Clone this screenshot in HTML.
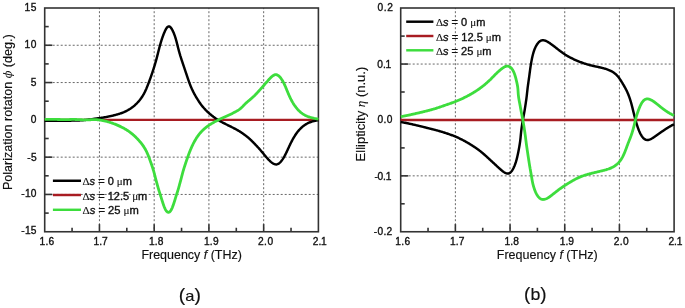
<!DOCTYPE html>
<html><head><meta charset="utf-8"><title>Figure</title><style>
html,body{margin:0;padding:0;background:#fff;width:685px;height:308px;overflow:hidden}
svg{display:block}
text{font-family:"Liberation Sans",Arial,sans-serif;fill:#111;stroke:#111;stroke-width:0.35px}
.pl{fill:#111;stroke-width:0.15px}
.al{stroke-width:0.15px}
.sym{font-family:"Liberation Serif",serif;stroke-width:0.1px}
.sym2{font-family:"DejaVu Serif",serif;stroke-width:0;font-size:11px}
.grid{stroke:#686868;stroke-width:1;stroke-dasharray:2 2;fill:none}
.ax{fill:none;stroke:#333;stroke-width:1.6}
.tk{stroke:#333;stroke-width:1.6}
.c{fill:none;stroke-width:2.45;stroke-linejoin:round;stroke-linecap:butt}
.blk{stroke:#000}
.red{stroke:#a81c22}
.grn{stroke:#3ddd3d}
.gc{stroke-width:2.8}
</style></head><body>
<svg width="685" height="308" viewBox="0 0 685 308">
<line x1="99.44" y1="8.0" x2="99.44" y2="231.75" class="grid" stroke-dashoffset="0.8"/>
<line x1="154.18" y1="8.0" x2="154.18" y2="231.75" class="grid" stroke-dashoffset="0.8"/>
<line x1="208.92" y1="8.0" x2="208.92" y2="231.75" class="grid" stroke-dashoffset="0.8"/>
<line x1="263.66" y1="8.0" x2="263.66" y2="231.75" class="grid" stroke-dashoffset="0.8"/>
<line x1="44.7" y1="45.25" x2="318.4" y2="45.25" class="grid"/>
<line x1="44.7" y1="82.55" x2="318.4" y2="82.55" class="grid"/>
<line x1="44.7" y1="119.85" x2="318.4" y2="119.85" class="grid"/>
<line x1="44.7" y1="157.15" x2="318.4" y2="157.15" class="grid"/>
<line x1="44.7" y1="194.45" x2="318.4" y2="194.45" class="grid"/>
<rect x="44.7" y="8.0" width="273.70" height="223.75" class="ax"/>
<line x1="99.44" y1="231.75" x2="99.44" y2="224.15" class="tk"/>
<line x1="154.18" y1="231.75" x2="154.18" y2="224.15" class="tk"/>
<line x1="208.92" y1="231.75" x2="208.92" y2="224.15" class="tk"/>
<line x1="263.66" y1="231.75" x2="263.66" y2="224.15" class="tk"/>
<line x1="72.07" y1="231.75" x2="72.07" y2="227.75" class="tk"/>
<line x1="126.81" y1="231.75" x2="126.81" y2="227.75" class="tk"/>
<line x1="181.55" y1="231.75" x2="181.55" y2="227.75" class="tk"/>
<line x1="236.29" y1="231.75" x2="236.29" y2="227.75" class="tk"/>
<line x1="291.03" y1="231.75" x2="291.03" y2="227.75" class="tk"/>
<line x1="44.7" y1="45.25" x2="52.300000000000004" y2="45.25" class="tk"/>
<line x1="44.7" y1="82.55" x2="52.300000000000004" y2="82.55" class="tk"/>
<line x1="44.7" y1="119.85" x2="52.300000000000004" y2="119.85" class="tk"/>
<line x1="44.7" y1="157.15" x2="52.300000000000004" y2="157.15" class="tk"/>
<line x1="44.7" y1="194.45" x2="52.300000000000004" y2="194.45" class="tk"/>
<line x1="44.7" y1="26.60" x2="48.7" y2="26.60" class="tk"/>
<line x1="44.7" y1="63.90" x2="48.7" y2="63.90" class="tk"/>
<line x1="44.7" y1="101.20" x2="48.7" y2="101.20" class="tk"/>
<line x1="44.7" y1="138.50" x2="48.7" y2="138.50" class="tk"/>
<line x1="44.7" y1="175.80" x2="48.7" y2="175.80" class="tk"/>
<line x1="44.7" y1="213.10" x2="48.7" y2="213.10" class="tk"/>
<path d="M44.7,119.85 L318.4,119.85" class="c red"/>
<path d="M44.70,120.71 L45.31,120.71 L45.92,120.71 L46.54,120.71 L47.15,120.71 L47.76,120.71 L48.37,120.71 L48.98,120.71 L49.59,120.72 L50.21,120.72 L50.82,120.72 L51.43,120.72 L52.04,120.72 L52.65,120.72 L53.27,120.72 L53.88,120.72 L54.49,120.72 L55.10,120.72 L55.71,120.72 L56.33,120.72 L56.94,120.72 L57.55,120.71 L58.16,120.71 L58.77,120.71 L59.38,120.71 L60.00,120.71 L60.61,120.71 L61.22,120.71 L61.83,120.71 L62.44,120.71 L63.06,120.71 L63.67,120.71 L64.28,120.71 L64.89,120.71 L65.50,120.70 L66.12,120.70 L66.73,120.70 L67.34,120.69 L67.95,120.69 L68.56,120.69 L69.17,120.68 L69.79,120.68 L70.40,120.67 L71.01,120.66 L71.62,120.65 L72.23,120.64 L72.85,120.63 L73.46,120.62 L74.07,120.61 L74.68,120.59 L75.29,120.58 L75.90,120.56 L76.52,120.54 L77.13,120.52 L77.74,120.50 L78.35,120.47 L78.96,120.44 L79.57,120.41 L80.18,120.38 L80.79,120.34 L81.40,120.30 L82.01,120.26 L82.62,120.21 L83.23,120.17 L83.84,120.11 L84.45,120.06 L85.06,120.00 L85.67,119.94 L86.28,119.88 L86.89,119.81 L87.50,119.74 L88.10,119.66 L88.71,119.59 L89.32,119.51 L89.92,119.43 L90.53,119.35 L91.14,119.27 L91.74,119.18 L92.35,119.10 L92.95,119.01 L93.56,118.92 L94.17,118.83 L94.77,118.75 L95.38,118.66 L95.98,118.57 L96.59,118.49 L97.19,118.40 L97.80,118.31 L98.40,118.23 L99.01,118.14 L99.62,118.06 L100.22,117.97 L100.83,117.88 L101.43,117.79 L102.04,117.70 L102.64,117.61 L103.25,117.52 L103.85,117.42 L104.46,117.32 L105.06,117.22 L105.66,117.11 L106.26,117.00 L106.86,116.89 L107.47,116.77 L108.07,116.65 L108.66,116.53 L109.26,116.40 L109.86,116.27 L110.46,116.14 L111.06,116.01 L111.65,115.87 L112.25,115.73 L112.84,115.59 L113.44,115.44 L114.03,115.30 L114.62,115.15 L115.22,114.99 L115.81,114.84 L116.40,114.68 L116.99,114.51 L117.58,114.34 L118.16,114.17 L118.75,113.99 L119.33,113.81 L119.91,113.62 L120.49,113.42 L121.07,113.22 L121.65,113.01 L122.22,112.79 L122.79,112.57 L123.36,112.34 L123.92,112.11 L124.48,111.86 L125.04,111.61 L125.59,111.35 L126.14,111.08 L126.69,110.81 L127.23,110.53 L127.77,110.24 L128.30,109.94 L128.83,109.63 L129.36,109.31 L129.88,108.99 L130.39,108.66 L130.90,108.32 L131.40,107.97 L131.90,107.61 L132.39,107.24 L132.87,106.87 L133.35,106.49 L133.82,106.10 L134.29,105.70 L134.75,105.30 L135.20,104.89 L135.65,104.47 L136.09,104.05 L136.53,103.62 L136.95,103.18 L137.38,102.74 L137.79,102.29 L138.20,101.83 L138.61,101.38 L139.00,100.91 L139.40,100.44 L139.78,99.96 L140.16,99.48 L140.53,99.00 L140.89,98.50 L141.25,98.01 L141.60,97.51 L141.95,97.00 L142.29,96.49 L142.62,95.98 L142.94,95.46 L143.25,94.93 L143.56,94.40 L143.86,93.87 L144.15,93.33 L144.44,92.79 L144.72,92.25 L144.99,91.70 L145.25,91.14 L145.51,90.59 L145.76,90.03 L146.00,89.47 L146.25,88.91 L146.48,88.35 L146.72,87.78 L146.95,87.21 L147.18,86.65 L147.40,86.08 L147.63,85.51 L147.85,84.94 L148.08,84.37 L148.30,83.80 L148.52,83.23 L148.74,82.66 L148.95,82.08 L149.17,81.51 L149.38,80.94 L149.60,80.37 L149.81,79.79 L150.02,79.22 L150.23,78.64 L150.44,78.07 L150.64,77.49 L150.85,76.91 L151.05,76.34 L151.25,75.76 L151.45,75.18 L151.65,74.60 L151.85,74.02 L152.05,73.44 L152.24,72.86 L152.44,72.28 L152.63,71.70 L152.82,71.12 L153.01,70.54 L153.20,69.96 L153.39,69.38 L153.58,68.80 L153.76,68.21 L153.95,67.63 L154.13,67.04 L154.31,66.46 L154.49,65.88 L154.67,65.29 L154.85,64.70 L155.02,64.12 L155.19,63.53 L155.37,62.94 L155.54,62.36 L155.70,61.77 L155.87,61.18 L156.04,60.59 L156.20,60.00 L156.36,59.41 L156.52,58.82 L156.68,58.23 L156.83,57.64 L156.99,57.04 L157.14,56.45 L157.29,55.86 L157.44,55.27 L157.59,54.67 L157.74,54.08 L157.89,53.49 L158.04,52.89 L158.19,52.30 L158.34,51.71 L158.49,51.11 L158.64,50.52 L158.79,49.93 L158.94,49.33 L159.09,48.74 L159.25,48.15 L159.40,47.56 L159.56,46.97 L159.72,46.38 L159.88,45.79 L160.04,45.20 L160.21,44.61 L160.38,44.02 L160.55,43.43 L160.72,42.84 L160.89,42.26 L161.07,41.67 L161.25,41.09 L161.43,40.50 L161.61,39.92 L161.80,39.34 L161.99,38.75 L162.19,38.17 L162.39,37.60 L162.59,37.02 L162.80,36.44 L163.01,35.87 L163.22,35.29 L163.44,34.72 L163.66,34.15 L163.89,33.58 L164.12,33.02 L164.35,32.45 L164.60,31.89 L164.85,31.33 L165.10,30.78 L165.37,30.23 L165.65,29.68 L165.94,29.14 L166.25,28.62 L166.58,28.10 L166.95,27.61 L167.35,27.15 L167.81,26.75 L168.35,26.46 L168.95,26.37 L169.54,26.52 L170.06,26.85 L170.51,27.26 L170.91,27.72 L171.28,28.21 L171.61,28.72 L171.93,29.24 L172.23,29.78 L172.51,30.32 L172.79,30.87 L173.05,31.42 L173.30,31.98 L173.54,32.54 L173.78,33.10 L174.01,33.67 L174.23,34.24 L174.44,34.81 L174.65,35.39 L174.85,35.97 L175.05,36.55 L175.24,37.13 L175.42,37.71 L175.60,38.30 L175.78,38.88 L175.95,39.47 L176.12,40.06 L176.28,40.65 L176.44,41.24 L176.60,41.83 L176.75,42.42 L176.90,43.02 L177.05,43.61 L177.20,44.20 L177.35,44.80 L177.50,45.39 L177.65,45.98 L177.80,46.58 L177.94,47.17 L178.09,47.76 L178.25,48.36 L178.40,48.95 L178.55,49.54 L178.71,50.13 L178.87,50.72 L179.03,51.31 L179.20,51.90 L179.36,52.49 L179.53,53.08 L179.70,53.67 L179.87,54.25 L180.05,54.84 L180.23,55.43 L180.40,56.01 L180.59,56.60 L180.77,57.18 L180.95,57.76 L181.14,58.35 L181.32,58.93 L181.51,59.51 L181.70,60.09 L181.89,60.67 L182.08,61.25 L182.28,61.84 L182.47,62.42 L182.66,63.00 L182.86,63.58 L183.05,64.16 L183.25,64.74 L183.44,65.32 L183.64,65.90 L183.83,66.48 L184.03,67.06 L184.22,67.64 L184.42,68.22 L184.61,68.80 L184.81,69.38 L185.00,69.96 L185.20,70.54 L185.39,71.12 L185.59,71.70 L185.78,72.28 L185.98,72.86 L186.17,73.44 L186.37,74.02 L186.56,74.60 L186.75,75.18 L186.95,75.76 L187.14,76.34 L187.34,76.92 L187.53,77.50 L187.73,78.08 L187.92,78.66 L188.12,79.24 L188.32,79.82 L188.52,80.39 L188.72,80.97 L188.92,81.55 L189.13,82.12 L189.34,82.70 L189.55,83.27 L189.76,83.85 L189.98,84.42 L190.20,84.99 L190.43,85.56 L190.66,86.12 L190.89,86.69 L191.13,87.25 L191.38,87.81 L191.62,88.37 L191.87,88.93 L192.13,89.49 L192.39,90.04 L192.65,90.59 L192.92,91.14 L193.20,91.69 L193.47,92.24 L193.75,92.78 L194.04,93.32 L194.33,93.86 L194.62,94.40 L194.92,94.93 L195.22,95.47 L195.52,96.00 L195.83,96.53 L196.14,97.05 L196.46,97.58 L196.77,98.10 L197.09,98.62 L197.42,99.14 L197.74,99.66 L198.07,100.17 L198.40,100.69 L198.74,101.20 L199.08,101.71 L199.42,102.22 L199.77,102.72 L200.12,103.22 L200.47,103.72 L200.83,104.22 L201.20,104.71 L201.56,105.20 L201.94,105.68 L202.32,106.16 L202.70,106.64 L203.09,107.11 L203.49,107.57 L203.89,108.04 L204.30,108.49 L204.71,108.95 L205.13,109.39 L205.55,109.84 L205.98,110.27 L206.41,110.71 L206.84,111.14 L207.28,111.56 L207.73,111.98 L208.17,112.40 L208.63,112.81 L209.08,113.22 L209.54,113.63 L210.00,114.03 L210.47,114.42 L210.94,114.81 L211.41,115.20 L211.89,115.58 L212.37,115.96 L212.86,116.34 L213.34,116.71 L213.83,117.07 L214.33,117.43 L214.83,117.79 L215.33,118.14 L215.83,118.49 L216.34,118.83 L216.85,119.16 L217.36,119.50 L217.88,119.82 L218.40,120.14 L218.93,120.46 L219.45,120.77 L219.98,121.08 L220.51,121.38 L221.05,121.68 L221.59,121.97 L222.12,122.26 L222.67,122.55 L223.21,122.83 L223.75,123.11 L224.30,123.39 L224.84,123.67 L225.39,123.94 L225.94,124.22 L226.48,124.49 L227.03,124.76 L227.58,125.03 L228.13,125.30 L228.68,125.58 L229.22,125.85 L229.77,126.12 L230.32,126.39 L230.87,126.67 L231.41,126.94 L231.96,127.22 L232.51,127.49 L233.05,127.77 L233.59,128.05 L234.14,128.33 L234.68,128.62 L235.22,128.90 L235.76,129.19 L236.30,129.49 L236.83,129.78 L237.37,130.08 L237.90,130.39 L238.42,130.70 L238.95,131.01 L239.47,131.33 L239.99,131.65 L240.51,131.98 L241.02,132.31 L241.54,132.64 L242.04,132.98 L242.55,133.33 L243.05,133.68 L243.55,134.03 L244.05,134.39 L244.54,134.75 L245.03,135.12 L245.52,135.49 L246.00,135.86 L246.48,136.24 L246.96,136.62 L247.43,137.01 L247.90,137.40 L248.37,137.80 L248.83,138.20 L249.29,138.60 L249.75,139.01 L250.20,139.42 L250.65,139.84 L251.09,140.26 L251.53,140.69 L251.97,141.12 L252.40,141.55 L252.84,141.98 L253.27,142.41 L253.69,142.85 L254.12,143.29 L254.55,143.73 L254.97,144.17 L255.40,144.61 L255.82,145.05 L256.24,145.49 L256.66,145.94 L257.08,146.39 L257.50,146.84 L257.91,147.29 L258.32,147.74 L258.73,148.19 L259.14,148.65 L259.55,149.11 L259.95,149.57 L260.35,150.03 L260.75,150.49 L261.14,150.96 L261.54,151.43 L261.93,151.90 L262.32,152.37 L262.71,152.84 L263.10,153.31 L263.49,153.78 L263.88,154.25 L264.27,154.72 L264.66,155.20 L265.05,155.67 L265.45,156.13 L265.84,156.60 L266.24,157.06 L266.64,157.53 L267.05,157.98 L267.46,158.44 L267.87,158.89 L268.29,159.34 L268.72,159.78 L269.15,160.21 L269.58,160.64 L270.03,161.06 L270.48,161.47 L270.94,161.87 L271.41,162.26 L271.90,162.64 L272.39,163.00 L272.90,163.33 L273.43,163.64 L273.98,163.91 L274.55,164.14 L275.14,164.31 L275.74,164.41 L276.35,164.42 L276.96,164.34 L277.54,164.17 L278.11,163.93 L278.64,163.63 L279.14,163.28 L279.61,162.89 L280.06,162.47 L280.49,162.04 L280.90,161.58 L281.29,161.11 L281.67,160.63 L282.03,160.14 L282.38,159.64 L282.73,159.13 L283.06,158.62 L283.39,158.10 L283.70,157.58 L284.01,157.05 L284.31,156.52 L284.61,155.98 L284.90,155.44 L285.19,154.90 L285.47,154.36 L285.74,153.81 L286.01,153.26 L286.28,152.71 L286.55,152.16 L286.81,151.61 L287.07,151.06 L287.33,150.50 L287.58,149.95 L287.84,149.39 L288.09,148.83 L288.35,148.28 L288.60,147.72 L288.86,147.16 L289.11,146.61 L289.37,146.05 L289.63,145.50 L289.89,144.95 L290.16,144.39 L290.42,143.84 L290.69,143.29 L290.96,142.75 L291.24,142.20 L291.52,141.65 L291.80,141.11 L292.08,140.57 L292.37,140.03 L292.66,139.49 L292.96,138.96 L293.26,138.43 L293.57,137.90 L293.88,137.37 L294.19,136.84 L294.51,136.32 L294.84,135.80 L295.17,135.29 L295.50,134.78 L295.84,134.27 L296.19,133.76 L296.55,133.27 L296.91,132.77 L297.27,132.28 L297.65,131.80 L298.03,131.32 L298.42,130.85 L298.81,130.38 L299.22,129.92 L299.63,129.47 L300.05,129.02 L300.48,128.59 L300.91,128.16 L301.36,127.74 L301.81,127.32 L302.27,126.92 L302.74,126.53 L303.22,126.15 L303.70,125.77 L304.20,125.41 L304.70,125.06 L305.21,124.72 L305.73,124.40 L306.25,124.08 L306.78,123.78 L307.32,123.49 L307.87,123.21 L308.42,122.95 L308.98,122.70 L309.54,122.46 L310.11,122.23 L310.68,122.02 L311.26,121.81 L311.84,121.62 L312.42,121.44 L313.01,121.27 L313.60,121.11 L314.20,120.96 L314.79,120.82 L315.39,120.69 L315.99,120.57 L316.59,120.46 L317.19,120.35 L317.80,120.25 L318.40,120.16" class="c blk"/>
<path d="M44.70,119.46 L45.31,119.46 L45.92,119.47 L46.53,119.47 L47.14,119.47 L47.76,119.47 L48.37,119.47 L48.98,119.47 L49.59,119.46 L50.20,119.46 L50.82,119.46 L51.43,119.45 L52.04,119.45 L52.65,119.45 L53.26,119.45 L53.87,119.45 L54.49,119.45 L55.10,119.45 L55.71,119.46 L56.32,119.46 L56.93,119.47 L57.55,119.48 L58.16,119.49 L58.77,119.50 L59.38,119.51 L59.99,119.52 L60.61,119.53 L61.22,119.54 L61.83,119.55 L62.44,119.55 L63.05,119.56 L63.66,119.57 L64.28,119.57 L64.89,119.58 L65.50,119.58 L66.11,119.58 L66.72,119.57 L67.34,119.57 L67.95,119.55 L68.56,119.54 L69.17,119.53 L69.78,119.51 L70.39,119.49 L71.01,119.48 L71.62,119.47 L72.23,119.46 L72.84,119.45 L73.45,119.46 L74.07,119.46 L74.68,119.47 L75.29,119.48 L75.90,119.50 L76.51,119.52 L77.12,119.54 L77.74,119.56 L78.35,119.59 L78.96,119.62 L79.57,119.65 L80.18,119.68 L80.79,119.71 L81.40,119.74 L82.01,119.77 L82.62,119.80 L83.24,119.83 L83.85,119.86 L84.46,119.89 L85.07,119.91 L85.68,119.93 L86.29,119.94 L86.91,119.94 L87.52,119.93 L88.13,119.91 L88.74,119.88 L89.35,119.84 L89.96,119.80 L90.57,119.75 L91.18,119.70 L91.79,119.66 L92.40,119.62 L93.01,119.60 L93.63,119.58 L94.24,119.58 L94.85,119.59 L95.46,119.61 L96.07,119.64 L96.68,119.69 L97.29,119.74 L97.90,119.80 L98.51,119.86 L99.12,119.94 L99.72,120.02 L100.33,120.11 L100.93,120.20 L101.54,120.31 L102.14,120.41 L102.74,120.53 L103.34,120.65 L103.94,120.77 L104.54,120.91 L105.13,121.04 L105.73,121.19 L106.32,121.33 L106.91,121.49 L107.50,121.65 L108.09,121.81 L108.68,121.98 L109.27,122.16 L109.85,122.34 L110.43,122.53 L111.02,122.72 L111.60,122.92 L112.17,123.12 L112.75,123.32 L113.32,123.53 L113.90,123.74 L114.47,123.96 L115.04,124.18 L115.61,124.41 L116.18,124.64 L116.74,124.87 L117.31,125.11 L117.87,125.35 L118.43,125.60 L118.99,125.85 L119.54,126.11 L120.09,126.37 L120.65,126.63 L121.20,126.90 L121.74,127.17 L122.29,127.45 L122.83,127.74 L123.37,128.02 L123.91,128.32 L124.44,128.62 L124.97,128.92 L125.50,129.23 L126.02,129.55 L126.55,129.87 L127.06,130.19 L127.58,130.53 L128.09,130.87 L128.59,131.21 L129.09,131.56 L129.59,131.92 L130.08,132.28 L130.57,132.65 L131.05,133.03 L131.53,133.41 L132.01,133.79 L132.48,134.18 L132.94,134.58 L133.41,134.98 L133.86,135.39 L134.32,135.80 L134.76,136.22 L135.21,136.64 L135.65,137.06 L136.08,137.49 L136.51,137.93 L136.94,138.37 L137.36,138.81 L137.78,139.25 L138.20,139.70 L138.61,140.16 L139.01,140.62 L139.42,141.08 L139.82,141.54 L140.21,142.01 L140.60,142.48 L140.99,142.95 L141.37,143.43 L141.75,143.91 L142.12,144.40 L142.48,144.89 L142.84,145.39 L143.19,145.89 L143.54,146.39 L143.88,146.90 L144.21,147.42 L144.53,147.94 L144.85,148.46 L145.15,148.99 L145.45,149.52 L145.74,150.06 L146.03,150.60 L146.31,151.15 L146.57,151.70 L146.84,152.25 L147.09,152.81 L147.34,153.37 L147.58,153.93 L147.82,154.49 L148.05,155.06 L148.28,155.63 L148.50,156.20 L148.72,156.77 L148.94,157.34 L149.16,157.91 L149.37,158.49 L149.58,159.06 L149.79,159.63 L150.00,160.21 L150.21,160.78 L150.42,161.36 L150.63,161.94 L150.83,162.51 L151.04,163.09 L151.24,163.67 L151.44,164.24 L151.64,164.82 L151.84,165.40 L152.03,165.98 L152.23,166.56 L152.42,167.14 L152.61,167.72 L152.80,168.31 L152.98,168.89 L153.16,169.47 L153.34,170.06 L153.52,170.64 L153.69,171.23 L153.86,171.82 L154.03,172.41 L154.19,173.00 L154.34,173.59 L154.49,174.18 L154.64,174.78 L154.79,175.37 L154.94,175.96 L155.09,176.56 L155.24,177.15 L155.39,177.74 L155.54,178.34 L155.70,178.93 L155.86,179.52 L156.02,180.11 L156.18,180.70 L156.34,181.29 L156.50,181.88 L156.66,182.47 L156.82,183.06 L156.98,183.65 L157.15,184.24 L157.31,184.83 L157.47,185.42 L157.64,186.01 L157.81,186.60 L157.97,187.19 L158.14,187.78 L158.31,188.36 L158.48,188.95 L158.66,189.54 L158.83,190.12 L159.01,190.71 L159.19,191.29 L159.38,191.88 L159.56,192.46 L159.75,193.04 L159.94,193.63 L160.12,194.21 L160.31,194.79 L160.49,195.38 L160.68,195.96 L160.86,196.54 L161.04,197.13 L161.22,197.71 L161.40,198.30 L161.58,198.88 L161.76,199.47 L161.94,200.05 L162.12,200.64 L162.30,201.22 L162.49,201.80 L162.67,202.39 L162.86,202.97 L163.05,203.55 L163.25,204.13 L163.45,204.71 L163.65,205.29 L163.86,205.86 L164.07,206.43 L164.30,207.00 L164.53,207.57 L164.77,208.13 L165.02,208.69 L165.29,209.24 L165.58,209.78 L165.89,210.30 L166.24,210.81 L166.62,211.29 L167.05,211.72 L167.55,212.08 L168.12,212.29 L168.72,212.30 L169.30,212.09 L169.80,211.74 L170.23,211.31 L170.61,210.83 L170.95,210.32 L171.26,209.79 L171.55,209.25 L171.81,208.70 L172.07,208.14 L172.31,207.58 L172.53,207.01 L172.75,206.44 L172.97,205.87 L173.17,205.29 L173.37,204.71 L173.57,204.13 L173.76,203.55 L173.95,202.97 L174.14,202.39 L174.32,201.80 L174.51,201.22 L174.69,200.64 L174.87,200.05 L175.05,199.47 L175.22,198.88 L175.40,198.30 L175.58,197.71 L175.76,197.13 L175.94,196.54 L176.12,195.96 L176.31,195.37 L176.49,194.79 L176.68,194.21 L176.87,193.63 L177.06,193.04 L177.25,192.46 L177.43,191.88 L177.62,191.30 L177.80,190.71 L177.98,190.13 L178.16,189.54 L178.33,188.95 L178.50,188.37 L178.67,187.78 L178.83,187.19 L179.00,186.60 L179.16,186.01 L179.32,185.42 L179.48,184.83 L179.64,184.24 L179.80,183.65 L179.96,183.06 L180.12,182.47 L180.28,181.87 L180.44,181.28 L180.59,180.69 L180.75,180.10 L180.91,179.51 L181.06,178.92 L181.22,178.32 L181.37,177.73 L181.53,177.14 L181.68,176.55 L181.84,175.96 L181.99,175.36 L182.15,174.77 L182.30,174.18 L182.46,173.59 L182.61,173.00 L182.77,172.41 L182.93,171.82 L183.10,171.23 L183.27,170.64 L183.44,170.05 L183.62,169.47 L183.80,168.88 L183.98,168.30 L184.16,167.71 L184.35,167.13 L184.54,166.55 L184.73,165.97 L184.92,165.38 L185.11,164.80 L185.30,164.22 L185.49,163.64 L185.68,163.06 L185.88,162.48 L186.07,161.90 L186.27,161.32 L186.46,160.74 L186.66,160.16 L186.86,159.58 L187.06,159.00 L187.26,158.42 L187.46,157.85 L187.66,157.27 L187.86,156.69 L188.07,156.12 L188.28,155.54 L188.48,154.96 L188.69,154.39 L188.91,153.82 L189.12,153.24 L189.34,152.67 L189.56,152.10 L189.78,151.53 L190.01,150.96 L190.24,150.39 L190.47,149.83 L190.71,149.26 L190.95,148.70 L191.19,148.14 L191.43,147.58 L191.68,147.02 L191.94,146.46 L192.20,145.91 L192.46,145.35 L192.72,144.80 L192.99,144.25 L193.27,143.71 L193.54,143.16 L193.83,142.62 L194.11,142.08 L194.41,141.54 L194.70,141.01 L195.00,140.47 L195.31,139.94 L195.62,139.42 L195.94,138.89 L196.26,138.37 L196.59,137.86 L196.92,137.34 L197.27,136.84 L197.61,136.33 L197.97,135.83 L198.33,135.34 L198.70,134.85 L199.07,134.37 L199.46,133.89 L199.85,133.42 L200.24,132.95 L200.65,132.49 L201.06,132.04 L201.47,131.59 L201.90,131.15 L202.33,130.72 L202.76,130.29 L203.20,129.86 L203.65,129.45 L204.11,129.04 L204.57,128.63 L205.03,128.23 L205.50,127.84 L205.98,127.46 L206.46,127.08 L206.95,126.71 L207.44,126.35 L207.93,125.99 L208.44,125.64 L208.94,125.29 L209.45,124.95 L209.96,124.62 L210.48,124.29 L211.00,123.97 L211.52,123.65 L212.05,123.34 L212.58,123.03 L213.11,122.72 L213.64,122.42 L214.17,122.12 L214.71,121.83 L215.25,121.54 L215.79,121.25 L216.33,120.97 L216.87,120.69 L217.42,120.41 L217.97,120.14 L218.52,119.86 L219.07,119.60 L219.62,119.33 L220.17,119.07 L220.72,118.81 L221.28,118.55 L221.83,118.30 L222.39,118.04 L222.95,117.79 L223.51,117.54 L224.07,117.29 L224.63,117.04 L225.18,116.79 L225.74,116.54 L226.30,116.29 L226.86,116.04 L227.41,115.78 L227.97,115.52 L228.52,115.26 L229.08,115.00 L229.63,114.74 L230.18,114.47 L230.73,114.21 L231.28,113.94 L231.83,113.67 L232.38,113.40 L232.92,113.12 L233.47,112.84 L234.01,112.56 L234.56,112.28 L235.10,111.99 L235.63,111.70 L236.17,111.40 L236.70,111.10 L237.23,110.79 L237.75,110.47 L238.27,110.14 L238.78,109.80 L239.28,109.45 L239.77,109.09 L240.25,108.71 L240.72,108.32 L241.18,107.92 L241.63,107.50 L242.07,107.07 L242.50,106.64 L242.92,106.20 L243.35,105.76 L243.77,105.31 L244.19,104.87 L244.62,104.44 L245.05,104.00 L245.50,103.58 L245.94,103.16 L246.40,102.75 L246.85,102.35 L247.32,101.95 L247.78,101.55 L248.25,101.15 L248.72,100.76 L249.19,100.37 L249.66,99.97 L250.12,99.58 L250.59,99.18 L251.05,98.78 L251.51,98.38 L251.97,97.97 L252.42,97.56 L252.87,97.15 L253.32,96.73 L253.77,96.31 L254.21,95.89 L254.64,95.46 L255.08,95.03 L255.51,94.59 L255.94,94.15 L256.36,93.71 L256.78,93.27 L257.20,92.82 L257.61,92.37 L258.03,91.92 L258.44,91.46 L258.85,91.01 L259.26,90.56 L259.66,90.10 L260.07,89.64 L260.48,89.19 L260.88,88.73 L261.29,88.27 L261.70,87.81 L262.10,87.36 L262.51,86.90 L262.92,86.44 L263.32,85.98 L263.73,85.52 L264.13,85.06 L264.53,84.60 L264.93,84.14 L265.33,83.68 L265.73,83.21 L266.13,82.75 L266.53,82.28 L266.93,81.82 L267.33,81.36 L267.72,80.89 L268.13,80.43 L268.53,79.97 L268.94,79.51 L269.35,79.06 L269.76,78.61 L270.18,78.17 L270.61,77.73 L271.05,77.30 L271.50,76.88 L271.96,76.48 L272.43,76.09 L272.92,75.73 L273.44,75.40 L273.98,75.11 L274.54,74.88 L275.13,74.72 L275.74,74.66 L276.35,74.71 L276.94,74.86 L277.51,75.09 L278.04,75.40 L278.54,75.75 L279.00,76.15 L279.45,76.57 L279.87,77.02 L280.27,77.48 L280.65,77.96 L281.02,78.44 L281.37,78.94 L281.72,79.45 L282.05,79.96 L282.37,80.48 L282.68,81.01 L282.98,81.54 L283.27,82.08 L283.56,82.62 L283.83,83.17 L284.10,83.72 L284.37,84.27 L284.62,84.83 L284.88,85.38 L285.12,85.94 L285.37,86.50 L285.61,87.07 L285.84,87.63 L286.08,88.20 L286.31,88.76 L286.54,89.33 L286.77,89.90 L287.00,90.46 L287.23,91.03 L287.46,91.60 L287.70,92.16 L287.93,92.73 L288.17,93.29 L288.41,93.86 L288.65,94.42 L288.89,94.98 L289.14,95.54 L289.39,96.10 L289.65,96.65 L289.91,97.21 L290.17,97.76 L290.44,98.31 L290.72,98.85 L290.99,99.40 L291.28,99.94 L291.57,100.48 L291.86,101.02 L292.16,101.55 L292.46,102.08 L292.77,102.61 L293.09,103.13 L293.41,103.65 L293.74,104.17 L294.07,104.68 L294.42,105.19 L294.76,105.69 L295.12,106.19 L295.48,106.69 L295.85,107.17 L296.22,107.66 L296.61,108.13 L297.00,108.60 L297.40,109.07 L297.81,109.52 L298.22,109.97 L298.65,110.41 L299.08,110.85 L299.52,111.27 L299.97,111.68 L300.43,112.08 L300.90,112.48 L301.38,112.86 L301.87,113.23 L302.37,113.59 L302.87,113.93 L303.38,114.26 L303.91,114.59 L304.43,114.89 L304.97,115.19 L305.51,115.47 L306.06,115.74 L306.62,115.99 L307.18,116.24 L307.75,116.47 L308.32,116.69 L308.89,116.90 L309.47,117.10 L310.05,117.29 L310.64,117.47 L311.22,117.64 L311.81,117.81 L312.41,117.96 L313.00,118.11 L313.60,118.24 L314.19,118.38 L314.79,118.50 L315.39,118.62 L316.00,118.73 L316.60,118.83 L317.20,118.93 L317.81,119.02 L318.41,119.11" class="c grn gc"/>
<line x1="52.9" y1="180.75" x2="81" y2="180.75" class="c blk"/>
<line x1="52.9" y1="195.0" x2="81" y2="195.0" class="c red"/>
<line x1="52.9" y1="209.8" x2="81" y2="209.8" class="c grn"/>
<line x1="455.38" y1="8.0" x2="455.38" y2="231.75" class="grid" stroke-dashoffset="0.8"/>
<line x1="510.06" y1="8.0" x2="510.06" y2="231.75" class="grid" stroke-dashoffset="0.8"/>
<line x1="564.74" y1="8.0" x2="564.74" y2="231.75" class="grid" stroke-dashoffset="0.8"/>
<line x1="619.42" y1="8.0" x2="619.42" y2="231.75" class="grid" stroke-dashoffset="0.8"/>
<line x1="400.7" y1="64.05" x2="674.1" y2="64.05" class="grid"/>
<line x1="400.7" y1="119.95" x2="674.1" y2="119.95" class="grid"/>
<line x1="400.7" y1="175.85" x2="674.1" y2="175.85" class="grid"/>
<rect x="400.7" y="8.0" width="273.40" height="223.75" class="ax"/>
<line x1="455.38" y1="231.75" x2="455.38" y2="224.15" class="tk"/>
<line x1="510.06" y1="231.75" x2="510.06" y2="224.15" class="tk"/>
<line x1="564.74" y1="231.75" x2="564.74" y2="224.15" class="tk"/>
<line x1="619.42" y1="231.75" x2="619.42" y2="224.15" class="tk"/>
<line x1="428.04" y1="231.75" x2="428.04" y2="227.75" class="tk"/>
<line x1="482.72" y1="231.75" x2="482.72" y2="227.75" class="tk"/>
<line x1="537.40" y1="231.75" x2="537.40" y2="227.75" class="tk"/>
<line x1="592.08" y1="231.75" x2="592.08" y2="227.75" class="tk"/>
<line x1="646.76" y1="231.75" x2="646.76" y2="227.75" class="tk"/>
<line x1="400.7" y1="64.05" x2="408.3" y2="64.05" class="tk"/>
<line x1="400.7" y1="119.95" x2="408.3" y2="119.95" class="tk"/>
<line x1="400.7" y1="175.85" x2="408.3" y2="175.85" class="tk"/>
<line x1="400.7" y1="36.10" x2="404.7" y2="36.10" class="tk"/>
<line x1="400.7" y1="92.00" x2="404.7" y2="92.00" class="tk"/>
<line x1="400.7" y1="147.90" x2="404.7" y2="147.90" class="tk"/>
<line x1="400.7" y1="203.80" x2="404.7" y2="203.80" class="tk"/>
<path d="M400.7,119.95 L674.1,119.95" class="c red"/>
<path d="M400.82,122.04 L401.46,122.14 L402.09,122.24 L402.73,122.35 L403.37,122.46 L404.00,122.58 L404.64,122.69 L405.27,122.81 L405.90,122.93 L406.54,123.06 L407.17,123.18 L407.80,123.31 L408.43,123.45 L409.06,123.58 L409.69,123.72 L410.32,123.86 L410.95,124.00 L411.58,124.14 L412.21,124.29 L412.84,124.43 L413.47,124.58 L414.10,124.72 L414.73,124.87 L415.35,125.02 L415.98,125.17 L416.61,125.32 L417.24,125.46 L417.87,125.61 L418.49,125.76 L419.12,125.92 L419.75,126.07 L420.38,126.22 L421.00,126.37 L421.63,126.53 L422.25,126.68 L422.88,126.84 L423.51,127.00 L424.13,127.15 L424.76,127.31 L425.38,127.47 L426.01,127.62 L426.64,127.78 L427.26,127.94 L427.89,128.10 L428.51,128.26 L429.14,128.41 L429.76,128.57 L430.39,128.73 L431.02,128.89 L431.64,129.05 L432.27,129.20 L432.89,129.36 L433.52,129.52 L434.14,129.68 L434.77,129.84 L435.39,130.00 L436.02,130.17 L436.64,130.33 L437.26,130.50 L437.89,130.67 L438.51,130.85 L439.13,131.02 L439.75,131.20 L440.37,131.38 L440.99,131.56 L441.61,131.75 L442.22,131.93 L442.84,132.12 L443.46,132.32 L444.07,132.51 L444.69,132.71 L445.30,132.90 L445.91,133.11 L446.53,133.31 L447.14,133.51 L447.75,133.72 L448.36,133.93 L448.97,134.14 L449.58,134.35 L450.19,134.57 L450.79,134.79 L451.40,135.01 L452.00,135.24 L452.61,135.47 L453.21,135.70 L453.81,135.94 L454.41,136.18 L455.00,136.42 L455.60,136.67 L456.19,136.93 L456.78,137.19 L457.37,137.45 L457.96,137.71 L458.55,137.98 L459.13,138.26 L459.71,138.54 L460.29,138.82 L460.87,139.10 L461.45,139.39 L462.03,139.68 L462.60,139.98 L463.17,140.28 L463.74,140.58 L464.31,140.88 L464.88,141.19 L465.44,141.50 L466.01,141.82 L466.57,142.13 L467.13,142.45 L467.69,142.78 L468.24,143.10 L468.80,143.43 L469.35,143.77 L469.90,144.10 L470.45,144.44 L471.00,144.78 L471.55,145.12 L472.09,145.47 L472.63,145.82 L473.18,146.17 L473.72,146.52 L474.25,146.88 L474.79,147.24 L475.32,147.60 L475.86,147.97 L476.39,148.34 L476.91,148.71 L477.44,149.08 L477.96,149.46 L478.48,149.84 L479.00,150.23 L479.51,150.62 L480.02,151.01 L480.53,151.41 L481.04,151.81 L481.54,152.22 L482.04,152.62 L482.54,153.04 L483.03,153.45 L483.52,153.87 L484.01,154.29 L484.49,154.72 L484.98,155.15 L485.46,155.58 L485.94,156.01 L486.41,156.44 L486.89,156.88 L487.37,157.32 L487.84,157.75 L488.31,158.19 L488.79,158.63 L489.26,159.07 L489.73,159.51 L490.21,159.94 L490.68,160.38 L491.16,160.82 L491.63,161.26 L492.10,161.69 L492.58,162.13 L493.05,162.57 L493.53,163.01 L494.00,163.44 L494.48,163.88 L494.95,164.32 L495.42,164.76 L495.89,165.20 L496.37,165.64 L496.84,166.08 L497.31,166.52 L497.78,166.96 L498.26,167.40 L498.73,167.83 L499.21,168.27 L499.69,168.70 L500.17,169.13 L500.66,169.55 L501.15,169.97 L501.65,170.38 L502.15,170.79 L502.66,171.19 L503.17,171.57 L503.70,171.95 L504.24,172.30 L504.79,172.63 L505.37,172.93 L505.96,173.19 L506.57,173.39 L507.20,173.52 L507.84,173.56 L508.48,173.48 L509.10,173.30 L509.68,173.01 L510.21,172.65 L510.70,172.22 L511.14,171.76 L511.56,171.26 L511.94,170.74 L512.30,170.21 L512.64,169.66 L512.96,169.10 L513.26,168.53 L513.56,167.95 L513.84,167.37 L514.10,166.78 L514.36,166.19 L514.60,165.60 L514.84,165.00 L515.07,164.39 L515.29,163.78 L515.50,163.17 L515.70,162.56 L515.90,161.95 L516.08,161.33 L516.26,160.71 L516.44,160.09 L516.61,159.47 L516.77,158.84 L516.93,158.22 L517.09,157.59 L517.24,156.96 L517.38,156.33 L517.53,155.70 L517.67,155.07 L517.80,154.44 L517.94,153.81 L518.07,153.18 L518.20,152.55 L518.33,151.92 L518.45,151.28 L518.57,150.65 L518.69,150.02 L518.81,149.38 L518.93,148.75 L519.05,148.11 L519.16,147.48 L519.27,146.84 L519.38,146.21 L519.49,145.57 L519.60,144.93 L519.70,144.30 L519.80,143.66 L519.90,143.02 L519.99,142.38 L520.08,141.74 L520.17,141.10 L520.25,140.46 L520.33,139.82 L520.40,139.18 L520.47,138.54 L520.54,137.90 L520.60,137.26 L520.66,136.61 L520.72,135.97 L520.78,135.33 L520.84,134.69 L520.90,134.04 L520.97,133.40 L521.03,132.76 L521.10,132.12 L521.17,131.48 L521.25,130.84 L521.33,130.20 L521.41,129.56 L521.49,128.92 L521.58,128.28 L521.67,127.64 L521.76,127.00 L521.85,126.36 L521.95,125.72 L522.04,125.08 L522.14,124.45 L522.24,123.81 L522.34,123.17 L522.44,122.53 L522.55,121.90 L522.65,121.26 L522.76,120.62 L522.87,119.99 L522.98,119.35 L523.10,118.72 L523.21,118.08 L523.33,117.45 L523.45,116.81 L523.57,116.18 L523.69,115.55 L523.81,114.91 L523.93,114.28 L524.05,113.64 L524.16,113.01 L524.28,112.37 L524.39,111.74 L524.50,111.10 L524.61,110.47 L524.72,109.83 L524.82,109.19 L524.92,108.56 L525.02,107.92 L525.12,107.28 L525.22,106.64 L525.32,106.00 L525.41,105.37 L525.51,104.73 L525.60,104.09 L525.70,103.45 L525.80,102.81 L525.89,102.18 L525.98,101.54 L526.08,100.90 L526.17,100.26 L526.26,99.62 L526.35,98.98 L526.43,98.34 L526.51,97.70 L526.60,97.06 L526.68,96.42 L526.75,95.78 L526.83,95.14 L526.90,94.50 L526.97,93.86 L527.04,93.22 L527.11,92.57 L527.18,91.93 L527.25,91.29 L527.32,90.65 L527.39,90.01 L527.46,89.37 L527.54,88.73 L527.61,88.09 L527.69,87.44 L527.77,86.80 L527.86,86.16 L527.94,85.53 L528.03,84.89 L528.12,84.25 L528.21,83.61 L528.30,82.97 L528.39,82.33 L528.48,81.69 L528.57,81.05 L528.66,80.41 L528.75,79.77 L528.84,79.14 L528.93,78.50 L529.02,77.86 L529.11,77.22 L529.20,76.58 L529.28,75.94 L529.37,75.30 L529.46,74.66 L529.54,74.02 L529.63,73.38 L529.71,72.74 L529.79,72.10 L529.88,71.46 L529.96,70.82 L530.05,70.18 L530.13,69.54 L530.22,68.90 L530.31,68.26 L530.40,67.63 L530.50,66.99 L530.59,66.35 L530.69,65.71 L530.79,65.07 L530.90,64.44 L531.00,63.80 L531.11,63.16 L531.22,62.53 L531.33,61.89 L531.45,61.26 L531.57,60.62 L531.69,59.99 L531.81,59.36 L531.94,58.72 L532.07,58.09 L532.21,57.46 L532.35,56.83 L532.49,56.20 L532.64,55.58 L532.80,54.95 L532.96,54.32 L533.13,53.70 L533.30,53.08 L533.49,52.46 L533.68,51.84 L533.87,51.23 L534.08,50.62 L534.30,50.01 L534.53,49.41 L534.77,48.81 L535.02,48.21 L535.28,47.62 L535.55,47.04 L535.84,46.46 L536.14,45.89 L536.46,45.33 L536.79,44.78 L537.14,44.24 L537.51,43.71 L537.90,43.19 L538.32,42.70 L538.76,42.23 L539.22,41.78 L539.72,41.37 L540.26,41.01 L540.83,40.71 L541.43,40.47 L542.05,40.32 L542.69,40.25 L543.34,40.27 L543.98,40.36 L544.61,40.50 L545.22,40.70 L545.82,40.93 L546.41,41.20 L546.99,41.49 L547.56,41.79 L548.11,42.12 L548.67,42.45 L549.21,42.80 L549.75,43.15 L550.28,43.51 L550.81,43.88 L551.34,44.26 L551.86,44.64 L552.38,45.02 L552.90,45.41 L553.41,45.80 L553.92,46.19 L554.43,46.58 L554.94,46.98 L555.45,47.38 L555.96,47.77 L556.47,48.17 L556.98,48.57 L557.49,48.96 L558.00,49.36 L558.50,49.76 L559.02,50.15 L559.53,50.54 L560.04,50.94 L560.56,51.32 L561.07,51.71 L561.59,52.10 L562.11,52.48 L562.64,52.85 L563.16,53.23 L563.69,53.59 L564.23,53.96 L564.76,54.31 L565.30,54.67 L565.85,55.01 L566.40,55.35 L566.95,55.68 L567.51,56.01 L568.07,56.33 L568.63,56.65 L569.19,56.96 L569.76,57.27 L570.33,57.57 L570.91,57.86 L571.48,58.15 L572.06,58.44 L572.64,58.72 L573.22,59.00 L573.81,59.28 L574.39,59.55 L574.98,59.82 L575.57,60.08 L576.16,60.34 L576.75,60.59 L577.35,60.84 L577.94,61.09 L578.54,61.34 L579.14,61.58 L579.74,61.81 L580.34,62.05 L580.94,62.27 L581.55,62.50 L582.16,62.72 L582.76,62.94 L583.37,63.15 L583.98,63.36 L584.60,63.56 L585.21,63.76 L585.82,63.96 L586.44,64.15 L587.06,64.33 L587.68,64.51 L588.30,64.69 L588.92,64.86 L589.54,65.03 L590.17,65.19 L590.79,65.35 L591.42,65.50 L592.05,65.65 L592.68,65.80 L593.31,65.94 L593.94,66.09 L594.57,66.22 L595.20,66.36 L595.83,66.50 L596.46,66.63 L597.09,66.77 L597.72,66.90 L598.35,67.04 L598.98,67.18 L599.61,67.32 L600.24,67.46 L600.87,67.61 L601.50,67.76 L602.12,67.91 L602.75,68.07 L603.37,68.23 L604.00,68.40 L604.62,68.57 L605.24,68.76 L605.85,68.94 L606.47,69.14 L607.08,69.35 L607.69,69.57 L608.29,69.79 L608.89,70.03 L609.49,70.28 L610.07,70.54 L610.66,70.82 L611.23,71.11 L611.80,71.42 L612.36,71.74 L612.91,72.08 L613.45,72.43 L613.98,72.80 L614.50,73.19 L615.00,73.59 L615.49,74.01 L615.97,74.44 L616.44,74.89 L616.89,75.35 L617.33,75.82 L617.75,76.31 L618.17,76.80 L618.57,77.31 L618.96,77.82 L619.34,78.34 L619.71,78.87 L620.08,79.40 L620.44,79.94 L620.79,80.48 L621.13,81.02 L621.47,81.57 L621.81,82.12 L622.15,82.67 L622.48,83.22 L622.81,83.78 L623.14,84.33 L623.47,84.89 L623.79,85.45 L624.12,86.00 L624.44,86.56 L624.76,87.12 L625.07,87.69 L625.38,88.25 L625.69,88.82 L625.99,89.39 L626.28,89.97 L626.57,90.55 L626.85,91.13 L627.12,91.71 L627.39,92.30 L627.65,92.89 L627.90,93.48 L628.15,94.08 L628.39,94.68 L628.62,95.28 L628.85,95.88 L629.08,96.49 L629.30,97.09 L629.51,97.70 L629.72,98.31 L629.93,98.93 L630.13,99.54 L630.32,100.15 L630.52,100.77 L630.70,101.39 L630.89,102.01 L631.07,102.62 L631.24,103.25 L631.42,103.87 L631.59,104.49 L631.75,105.11 L631.91,105.74 L632.07,106.36 L632.23,106.99 L632.39,107.62 L632.54,108.24 L632.69,108.87 L632.84,109.50 L633.00,110.12 L633.15,110.75 L633.30,111.38 L633.45,112.00 L633.61,112.63 L633.77,113.26 L633.92,113.88 L634.08,114.51 L634.24,115.13 L634.40,115.76 L634.57,116.38 L634.73,117.01 L634.90,117.63 L635.06,118.25 L635.23,118.88 L635.40,119.50 L635.57,120.12 L635.74,120.74 L635.92,121.36 L636.10,121.99 L636.28,122.60 L636.46,123.22 L636.64,123.84 L636.83,124.46 L637.03,125.07 L637.22,125.69 L637.42,126.30 L637.63,126.92 L637.83,127.53 L638.05,128.13 L638.27,128.74 L638.50,129.35 L638.73,129.95 L638.97,130.55 L639.21,131.14 L639.47,131.74 L639.73,132.32 L640.01,132.91 L640.29,133.49 L640.59,134.06 L640.90,134.63 L641.22,135.19 L641.55,135.74 L641.91,136.28 L642.28,136.80 L642.67,137.32 L643.09,137.81 L643.54,138.27 L644.02,138.71 L644.53,139.10 L645.08,139.44 L645.66,139.71 L646.28,139.90 L646.92,140.00 L647.56,140.01 L648.20,139.94 L648.83,139.81 L649.45,139.62 L650.05,139.39 L650.64,139.13 L651.22,138.84 L651.78,138.53 L652.34,138.20 L652.89,137.87 L653.44,137.52 L653.98,137.17 L654.51,136.81 L655.05,136.45 L655.58,136.08 L656.11,135.71 L656.64,135.34 L657.16,134.97 L657.69,134.60 L658.22,134.22 L658.74,133.85 L659.27,133.48 L659.80,133.10 L660.32,132.73 L660.85,132.36 L661.38,131.99 L661.91,131.62 L662.44,131.25 L662.97,130.88 L663.50,130.52 L664.04,130.16 L664.57,129.80 L665.11,129.44 L665.65,129.09 L666.19,128.73 L666.73,128.39 L667.28,128.04 L667.83,127.70 L668.38,127.36 L668.93,127.03 L669.49,126.70 L670.04,126.38 L670.61,126.06 L671.17,125.75 L671.74,125.45 L672.31,125.15 L672.89,124.85 L673.46,124.57 L674.04,124.28" class="c blk"/>
<path d="M400.84,116.62 L401.48,116.51 L402.12,116.40 L402.75,116.29 L403.39,116.17 L404.02,116.06 L404.66,115.94 L405.29,115.81 L405.93,115.69 L406.56,115.56 L407.19,115.43 L407.82,115.30 L408.46,115.17 L409.09,115.04 L409.72,114.90 L410.35,114.76 L410.98,114.63 L411.61,114.49 L412.24,114.34 L412.87,114.20 L413.50,114.06 L414.13,113.91 L414.76,113.77 L415.39,113.62 L416.02,113.48 L416.65,113.33 L417.28,113.19 L417.91,113.04 L418.53,112.90 L419.16,112.76 L419.79,112.61 L420.42,112.47 L421.05,112.32 L421.68,112.17 L422.31,112.03 L422.94,111.88 L423.57,111.72 L424.19,111.57 L424.82,111.42 L425.45,111.26 L426.07,111.11 L426.70,110.95 L427.32,110.79 L427.95,110.63 L428.58,110.47 L429.20,110.30 L429.82,110.14 L430.45,109.97 L431.07,109.80 L431.69,109.63 L432.32,109.46 L432.94,109.28 L433.56,109.10 L434.18,108.92 L434.79,108.73 L435.41,108.54 L436.03,108.35 L436.64,108.15 L437.26,107.95 L437.87,107.74 L438.48,107.54 L439.09,107.33 L439.70,107.12 L440.31,106.91 L440.92,106.70 L441.53,106.48 L442.14,106.27 L442.75,106.06 L443.36,105.85 L443.97,105.64 L444.58,105.43 L445.19,105.22 L445.81,105.01 L446.42,104.80 L447.03,104.59 L447.64,104.39 L448.25,104.18 L448.86,103.97 L449.47,103.76 L450.08,103.55 L450.69,103.33 L451.30,103.12 L451.91,102.90 L452.52,102.68 L453.12,102.46 L453.73,102.23 L454.33,102.00 L454.93,101.77 L455.53,101.53 L456.13,101.29 L456.73,101.05 L457.33,100.80 L457.92,100.55 L458.51,100.29 L459.11,100.04 L459.70,99.78 L460.29,99.51 L460.88,99.25 L461.46,98.98 L462.05,98.70 L462.63,98.43 L463.21,98.15 L463.80,97.87 L464.38,97.59 L464.95,97.30 L465.53,97.01 L466.11,96.72 L466.68,96.42 L467.25,96.12 L467.82,95.82 L468.39,95.51 L468.96,95.21 L469.53,94.90 L470.09,94.58 L470.65,94.26 L471.21,93.94 L471.77,93.62 L472.33,93.29 L472.88,92.96 L473.44,92.63 L473.99,92.29 L474.54,91.95 L475.08,91.61 L475.63,91.26 L476.17,90.91 L476.71,90.55 L477.25,90.20 L477.78,89.83 L478.31,89.47 L478.84,89.10 L479.37,88.73 L479.90,88.35 L480.42,87.97 L480.94,87.59 L481.46,87.20 L481.97,86.81 L482.48,86.42 L482.99,86.02 L483.50,85.62 L484.00,85.21 L484.50,84.80 L484.99,84.39 L485.49,83.98 L485.98,83.56 L486.47,83.13 L486.95,82.71 L487.43,82.28 L487.91,81.84 L488.39,81.41 L488.86,80.97 L489.33,80.52 L489.80,80.08 L490.26,79.63 L490.73,79.18 L491.18,78.72 L491.64,78.27 L492.09,77.81 L492.55,77.35 L493.00,76.88 L493.45,76.42 L493.89,75.96 L494.34,75.49 L494.80,75.03 L495.25,74.57 L495.71,74.11 L496.16,73.66 L496.63,73.21 L497.09,72.76 L497.57,72.32 L498.04,71.88 L498.52,71.45 L499.00,71.02 L499.49,70.60 L499.98,70.18 L500.48,69.77 L500.98,69.36 L501.48,68.96 L502.00,68.57 L502.52,68.18 L503.05,67.82 L503.59,67.46 L504.15,67.13 L504.72,66.83 L505.31,66.57 L505.91,66.35 L506.54,66.20 L507.18,66.13 L507.83,66.14 L508.46,66.26 L509.07,66.46 L509.65,66.75 L510.19,67.11 L510.69,67.52 L511.15,67.97 L511.58,68.45 L511.98,68.96 L512.35,69.49 L512.69,70.03 L513.02,70.59 L513.32,71.16 L513.60,71.74 L513.87,72.33 L514.12,72.93 L514.35,73.53 L514.57,74.14 L514.78,74.75 L514.98,75.36 L515.17,75.98 L515.35,76.60 L515.52,77.22 L515.69,77.84 L515.86,78.47 L516.02,79.09 L516.17,79.72 L516.33,80.35 L516.48,80.98 L516.63,81.60 L516.77,82.23 L516.91,82.86 L517.05,83.49 L517.18,84.13 L517.31,84.76 L517.43,85.39 L517.54,86.03 L517.64,86.67 L517.73,87.31 L517.80,87.95 L517.87,88.59 L517.93,89.23 L517.98,89.88 L518.03,90.52 L518.07,91.17 L518.11,91.81 L518.15,92.46 L518.19,93.10 L518.24,93.74 L518.29,94.39 L518.35,95.03 L518.42,95.67 L518.50,96.31 L518.58,96.95 L518.67,97.59 L518.77,98.23 L518.87,98.87 L518.98,99.51 L519.09,100.14 L519.21,100.78 L519.32,101.41 L519.44,102.05 L519.56,102.68 L519.69,103.32 L519.81,103.95 L519.93,104.58 L520.05,105.22 L520.16,105.85 L520.28,106.49 L520.39,107.12 L520.51,107.76 L520.62,108.40 L520.74,109.03 L520.85,109.67 L520.97,110.30 L521.09,110.94 L521.21,111.57 L521.34,112.20 L521.46,112.84 L521.59,113.47 L521.71,114.10 L521.84,114.74 L521.97,115.37 L522.10,116.00 L522.22,116.64 L522.35,117.27 L522.47,117.90 L522.59,118.54 L522.71,119.17 L522.82,119.81 L522.93,120.44 L523.04,121.08 L523.15,121.72 L523.26,122.35 L523.37,122.99 L523.47,123.63 L523.58,124.27 L523.68,124.90 L523.78,125.54 L523.89,126.18 L523.99,126.82 L524.09,127.45 L524.19,128.09 L524.29,128.73 L524.39,129.37 L524.49,130.01 L524.59,130.64 L524.68,131.28 L524.78,131.92 L524.87,132.56 L524.96,133.20 L525.05,133.84 L525.14,134.48 L525.23,135.12 L525.31,135.76 L525.39,136.40 L525.48,137.04 L525.56,137.68 L525.64,138.32 L525.72,138.96 L525.80,139.60 L525.88,140.24 L525.96,140.88 L526.05,141.52 L526.13,142.16 L526.21,142.80 L526.30,143.44 L526.38,144.08 L526.47,144.72 L526.56,145.36 L526.65,146.00 L526.74,146.64 L526.83,147.28 L526.92,147.92 L527.01,148.56 L527.11,149.20 L527.20,149.84 L527.29,150.48 L527.39,151.12 L527.49,151.75 L527.58,152.39 L527.68,153.03 L527.77,153.67 L527.87,154.31 L527.97,154.95 L528.06,155.59 L528.16,156.22 L528.26,156.86 L528.35,157.50 L528.45,158.14 L528.55,158.78 L528.65,159.42 L528.74,160.05 L528.84,160.69 L528.94,161.33 L529.04,161.97 L529.14,162.61 L529.24,163.24 L529.34,163.88 L529.45,164.52 L529.55,165.16 L529.65,165.79 L529.76,166.43 L529.87,167.07 L529.98,167.70 L530.08,168.34 L530.20,168.98 L530.31,169.61 L530.42,170.25 L530.53,170.88 L530.65,171.52 L530.76,172.16 L530.87,172.79 L530.99,173.43 L531.10,174.06 L531.21,174.70 L531.33,175.33 L531.44,175.97 L531.54,176.61 L531.65,177.24 L531.76,177.88 L531.86,178.52 L531.97,179.16 L532.07,179.79 L532.18,180.43 L532.30,181.06 L532.42,181.70 L532.55,182.33 L532.68,182.96 L532.82,183.59 L532.97,184.22 L533.13,184.85 L533.29,185.47 L533.46,186.10 L533.64,186.72 L533.83,187.33 L534.02,187.95 L534.22,188.56 L534.43,189.17 L534.65,189.78 L534.88,190.39 L535.12,190.99 L535.36,191.58 L535.62,192.17 L535.89,192.76 L536.18,193.34 L536.47,193.91 L536.78,194.48 L537.11,195.04 L537.46,195.58 L537.82,196.12 L538.21,196.63 L538.62,197.13 L539.06,197.60 L539.53,198.04 L540.04,198.44 L540.58,198.79 L541.16,199.08 L541.77,199.29 L542.40,199.43 L543.04,199.48 L543.69,199.46 L544.33,199.37 L544.96,199.22 L545.57,199.02 L546.17,198.78 L546.76,198.51 L547.33,198.22 L547.89,197.90 L548.45,197.56 L548.99,197.21 L549.52,196.85 L550.05,196.48 L550.57,196.10 L551.09,195.71 L551.60,195.32 L552.11,194.92 L552.62,194.52 L553.12,194.12 L553.63,193.71 L554.13,193.31 L554.63,192.91 L555.14,192.51 L555.65,192.10 L556.15,191.71 L556.66,191.31 L557.17,190.91 L557.69,190.52 L558.20,190.13 L558.72,189.74 L559.24,189.36 L559.76,188.98 L560.28,188.60 L560.81,188.23 L561.34,187.86 L561.87,187.49 L562.40,187.12 L562.93,186.76 L563.47,186.39 L564.00,186.04 L564.54,185.68 L565.08,185.33 L565.62,184.98 L566.17,184.63 L566.71,184.28 L567.26,183.94 L567.81,183.60 L568.36,183.26 L568.91,182.92 L569.46,182.58 L570.01,182.25 L570.57,181.92 L571.12,181.59 L571.68,181.26 L572.24,180.94 L572.80,180.62 L573.36,180.30 L573.92,179.98 L574.49,179.67 L575.06,179.37 L575.63,179.06 L576.20,178.77 L576.78,178.48 L577.36,178.19 L577.94,177.91 L578.53,177.64 L579.11,177.37 L579.71,177.12 L580.30,176.87 L580.90,176.62 L581.50,176.39 L582.11,176.16 L582.71,175.94 L583.32,175.73 L583.93,175.52 L584.55,175.32 L585.16,175.12 L585.78,174.94 L586.40,174.75 L587.02,174.57 L587.64,174.39 L588.26,174.22 L588.89,174.05 L589.51,173.88 L590.13,173.72 L590.76,173.55 L591.38,173.39 L592.01,173.23 L592.63,173.07 L593.26,172.92 L593.89,172.76 L594.51,172.61 L595.14,172.45 L595.77,172.30 L596.40,172.15 L597.03,172.00 L597.65,171.85 L598.28,171.70 L598.91,171.56 L599.54,171.41 L600.17,171.26 L600.80,171.11 L601.42,170.96 L602.05,170.81 L602.68,170.65 L603.30,170.49 L603.93,170.33 L604.55,170.16 L605.18,169.99 L605.80,169.82 L606.42,169.63 L607.03,169.44 L607.65,169.24 L608.26,169.04 L608.87,168.82 L609.47,168.60 L610.07,168.36 L610.67,168.11 L611.26,167.85 L611.85,167.58 L612.42,167.29 L613.00,166.99 L613.56,166.67 L614.11,166.34 L614.66,166.00 L615.19,165.63 L615.72,165.26 L616.23,164.86 L616.73,164.46 L617.22,164.03 L617.69,163.59 L618.15,163.14 L618.60,162.67 L619.03,162.19 L619.45,161.70 L619.85,161.20 L620.24,160.68 L620.62,160.16 L620.98,159.63 L621.34,159.09 L621.67,158.54 L622.00,157.98 L622.32,157.42 L622.63,156.85 L622.92,156.28 L623.21,155.70 L623.49,155.12 L623.76,154.53 L624.03,153.94 L624.29,153.35 L624.54,152.75 L624.78,152.16 L625.02,151.56 L625.26,150.96 L625.49,150.35 L625.72,149.75 L625.95,149.15 L626.17,148.54 L626.40,147.93 L626.62,147.33 L626.84,146.72 L627.07,146.12 L627.29,145.51 L627.52,144.91 L627.74,144.30 L627.97,143.70 L628.20,143.10 L628.44,142.49 L628.67,141.89 L628.91,141.29 L629.15,140.69 L629.39,140.09 L629.63,139.49 L629.87,138.89 L630.11,138.29 L630.34,137.69 L630.57,137.09 L630.80,136.48 L631.02,135.88 L631.24,135.27 L631.45,134.66 L631.66,134.05 L631.86,133.44 L632.06,132.82 L632.25,132.20 L632.44,131.59 L632.63,130.97 L632.81,130.35 L632.99,129.73 L633.17,129.11 L633.34,128.49 L633.51,127.86 L633.68,127.24 L633.84,126.61 L634.00,125.99 L634.15,125.36 L634.30,124.73 L634.45,124.10 L634.60,123.48 L634.74,122.85 L634.89,122.22 L635.03,121.59 L635.18,120.96 L635.33,120.33 L635.48,119.70 L635.64,119.08 L635.80,118.45 L635.96,117.83 L636.14,117.21 L636.31,116.58 L636.50,115.97 L636.69,115.35 L636.88,114.73 L637.08,114.12 L637.28,113.50 L637.49,112.89 L637.70,112.28 L637.92,111.67 L638.14,111.07 L638.36,110.46 L638.58,109.85 L638.81,109.25 L639.05,108.65 L639.29,108.05 L639.53,107.45 L639.78,106.86 L640.04,106.27 L640.31,105.68 L640.59,105.10 L640.88,104.52 L641.18,103.95 L641.50,103.39 L641.83,102.83 L642.19,102.30 L642.57,101.77 L642.97,101.27 L643.40,100.79 L643.87,100.34 L644.37,99.93 L644.91,99.58 L645.49,99.29 L646.10,99.08 L646.73,98.95 L647.37,98.91 L648.02,98.95 L648.65,99.05 L649.28,99.22 L649.89,99.43 L650.48,99.68 L651.06,99.96 L651.63,100.26 L652.19,100.58 L652.74,100.92 L653.28,101.28 L653.82,101.64 L654.34,102.01 L654.87,102.39 L655.38,102.78 L655.90,103.17 L656.41,103.57 L656.91,103.97 L657.42,104.37 L657.92,104.78 L658.42,105.18 L658.92,105.59 L659.42,106.00 L659.92,106.41 L660.43,106.81 L660.93,107.22 L661.43,107.62 L661.94,108.02 L662.45,108.42 L662.96,108.81 L663.48,109.20 L663.99,109.59 L664.51,109.97 L665.04,110.35 L665.57,110.72 L666.10,111.08 L666.64,111.44 L667.18,111.79 L667.72,112.14 L668.27,112.48 L668.83,112.81 L669.38,113.14 L669.95,113.46 L670.51,113.77 L671.08,114.07 L671.65,114.37 L672.23,114.66 L672.81,114.95 L673.39,115.22 L673.98,115.50" class="c grn gc"/>
<line x1="406.2" y1="21.7" x2="433.4" y2="21.7" class="c blk"/>
<line x1="406.2" y1="36.0" x2="433.4" y2="36.0" class="c red"/>
<line x1="406.2" y1="50.3" x2="433.4" y2="50.3" class="c grn"/>
<text transform="translate(11.70,190.10) rotate(-90)" font-size="12.2" textLength="155.79" lengthAdjust="spacingAndGlyphs" class="al">Polarization rotaton <tspan class="sym2" font-style="italic">&#981;</tspan> (deg.)</text>
<text transform="translate(364.60,161.44) rotate(-90)" font-size="12.2" textLength="94.77" lengthAdjust="spacingAndGlyphs" class="al">Ellipticity <tspan class="sym" font-style="italic">&#951;</tspan> (n.u.)</text>
<text x="24.57" y="11" font-size="10.2" textLength="11.96" lengthAdjust="spacing" class="tl">15</text>
<text x="24.57" y="48" font-size="10.2" textLength="11.94" lengthAdjust="spacing" class="tl">10</text>
<text x="30.65" y="86" font-size="10.2" textLength="5.67" lengthAdjust="spacing" class="tl">5</text>
<text x="30.65" y="123" font-size="10.2" textLength="5.67" lengthAdjust="spacing" class="tl">0</text>
<text x="27.15" y="161" font-size="10.2" textLength="9.54" lengthAdjust="spacing" class="tl">-5</text>
<text x="21.25" y="197" font-size="10.2" textLength="15.27" lengthAdjust="spacing" class="tl">-10</text>
<text x="21.25" y="234" font-size="10.2" textLength="15.29" lengthAdjust="spacing" class="tl">-15</text>
<text x="377.45" y="11" font-size="10.2" textLength="15.56" lengthAdjust="spacing" class="tl">0.2</text>
<text x="377.35" y="68" font-size="10.2" textLength="13.94" lengthAdjust="spacing" class="tl">0.1</text>
<text x="377.45" y="123" font-size="10.2" textLength="15.03" lengthAdjust="spacing" class="tl">0.0</text>
<text x="374.45" y="180" font-size="10.2" textLength="16.86" lengthAdjust="spacing" class="tl">-0.1</text>
<text x="373.85" y="235" font-size="10.2" textLength="18.37" lengthAdjust="spacing" class="tl">-0.2</text>
<text x="39.57" y="245" font-size="10.2" textLength="14.53" lengthAdjust="spacing" class="tl">1.6</text>
<text x="93.58" y="245" font-size="10.2" textLength="14.12" lengthAdjust="spacing" class="tl">1.7</text>
<text x="148.98" y="245" font-size="10.2" textLength="14.53" lengthAdjust="spacing" class="tl">1.8</text>
<text x="203.98" y="245" font-size="10.2" textLength="14.63" lengthAdjust="spacing" class="tl">1.9</text>
<text x="257.93" y="245" font-size="10.2" textLength="15.16" lengthAdjust="spacing" class="tl">2.0</text>
<text x="312.82" y="245" font-size="10.2" textLength="13.97" lengthAdjust="spacing" class="tl">2.1</text>
<text x="395.18" y="245" font-size="10.2" textLength="14.93" lengthAdjust="spacing" class="tl">1.6</text>
<text x="449.88" y="245" font-size="10.2" textLength="14.63" lengthAdjust="spacing" class="tl">1.7</text>
<text x="504.57" y="245" font-size="10.2" textLength="14.32" lengthAdjust="spacing" class="tl">1.8</text>
<text x="559.67" y="245" font-size="10.2" textLength="14.32" lengthAdjust="spacing" class="tl">1.9</text>
<text x="613.82" y="245" font-size="10.2" textLength="14.86" lengthAdjust="spacing" class="tl">2.0</text>
<text x="668.42" y="245" font-size="10.2" textLength="14.07" lengthAdjust="spacing" class="tl">2.1</text>
<text x="141.41" y="259" font-size="12.2" textLength="100.41" lengthAdjust="spacingAndGlyphs" class="al">Frequency <tspan font-style="italic">f</tspan> (THz)</text>
<text x="496.80" y="259" font-size="12.2" textLength="100.82" lengthAdjust="spacingAndGlyphs" class="al">Frequency <tspan font-style="italic">f</tspan> (THz)</text>
<text x="82.50" y="185" font-size="10.4" textLength="49.44" lengthAdjust="spacingAndGlyphs" class="lg"><tspan class="sym">&#916;</tspan><tspan font-style="italic">s</tspan> = 0 <tspan class="sym">&#956;</tspan>m</text>
<text x="82.50" y="200" font-size="10.4" textLength="64.78" lengthAdjust="spacingAndGlyphs" class="lg"><tspan class="sym">&#916;</tspan><tspan font-style="italic">s</tspan> = 12.5 <tspan class="sym">&#956;</tspan>m</text>
<text x="82.50" y="214" font-size="10.4" textLength="56.39" lengthAdjust="spacingAndGlyphs" class="lg"><tspan class="sym">&#916;</tspan><tspan font-style="italic">s</tspan> = 25 <tspan class="sym">&#956;</tspan>m</text>
<text x="435.90" y="26" font-size="10.4" textLength="49.44" lengthAdjust="spacingAndGlyphs" class="lg"><tspan class="sym">&#916;</tspan><tspan font-style="italic">s</tspan> = 0 <tspan class="sym">&#956;</tspan>m</text>
<text x="435.90" y="41" font-size="10.4" textLength="65.18" lengthAdjust="spacingAndGlyphs" class="lg"><tspan class="sym">&#916;</tspan><tspan font-style="italic">s</tspan> = 12.5 <tspan class="sym">&#956;</tspan>m</text>
<text x="435.90" y="55" font-size="10.4" textLength="55.68" lengthAdjust="spacingAndGlyphs" class="lg"><tspan class="sym">&#916;</tspan><tspan font-style="italic">s</tspan> = 25 <tspan class="sym">&#956;</tspan>m</text>
<text x="178.80" y="301" font-size="17.6" textLength="22.07" lengthAdjust="spacingAndGlyphs" class="pl">(<tspan font-size="15">a</tspan>)</text>
<text x="524.12" y="300" font-size="17.6" textLength="22.48" lengthAdjust="spacingAndGlyphs" class="pl">(<tspan font-size="16.5">b</tspan>)</text>
</svg>
</body></html>
